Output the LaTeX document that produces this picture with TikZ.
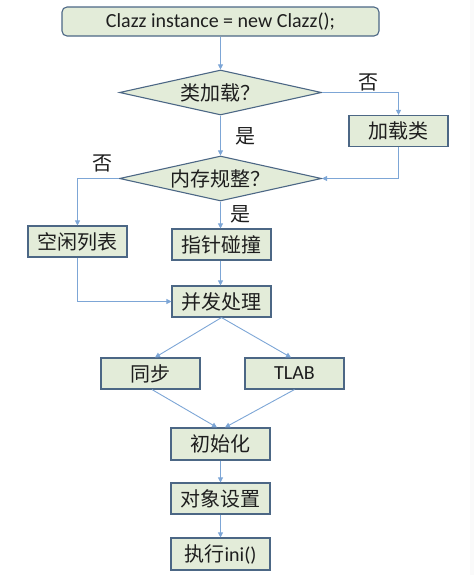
\documentclass[tikz,border=0pt]{standalone}
\usepackage{fontspec}
\setmainfont{Carlito}
\newfontfamily\cjk{Noto Sans CJK SC}
\usetikzlibrary{shapes.geometric,arrows.meta}
\definecolor{boxfill}{HTML}{E3ECD9}
\definecolor{boxdraw}{HTML}{4C6785}
\definecolor{conn}{HTML}{7DA6D6}
\definecolor{txt}{HTML}{1E1E1E}
\tikzset{
  every node/.style={text=txt,font=\fontsize{20}{22}\selectfont},
  procbox/.style={draw=boxdraw,fill=boxfill,line width=1.1pt,minimum width=99pt,minimum height=31pt,inner sep=0pt},
  startbox/.style={procbox,rounded corners=5pt,minimum width=317pt,minimum height=29pt},
  decide/.style={diamond,draw=boxdraw,fill=boxfill,line width=1.1pt,minimum width=202pt,minimum height=45pt,aspect=4.5,inner sep=0pt},
  flow/.style={draw=conn,line width=0.9pt,-{Triangle[width=5pt,length=5pt]}},
  lbl/.style={font=\cjk\fontsize{20}{22}\selectfont}
}
\begin{document}
\begin{tikzpicture}[x=1pt,y=-1pt]
\useasboundingbox (0,0) rectangle (474,579);
\fill[black!2] (470,0) rectangle (474,575);
\node[startbox] (start) at (220.5,21.5) {Clazz instance = new Clazz();};
\node[decide] (d1) at (220.5,92.5) {\cjk 类加载？};
\node[procbox] (load) at (398.5,131) {\cjk 加载类};
\node[decide] (d2) at (220.5,178.5) {\cjk 内存规整？};
\node[procbox] (free) at (77.5,241.5) {\cjk 空闲列表};
\node[procbox] (bump) at (221.5,244.5) {\cjk 指针碰撞};
\node[procbox] (conc) at (221.5,301.5) {\cjk 并发处理};
\node[procbox] (sync) at (150.5,373.5) {\cjk 同步};
\node[procbox] (tlab) at (294.5,373.5) {TLAB};
\node[procbox,minimum height=32pt] (init) at (220.5,444) {\cjk 初始化};
\node[procbox] (obj) at (220.5,498.5) {\cjk 对象设置};
\node[procbox,minimum height=32pt] (exec) at (220.5,554) {{\cjk 执行}ini()};

\draw[flow] (start.south) -- (d1.north);
\draw[flow] (d1.east) -| (load.north);
\draw[flow] (d1.south) -- (d2.north);
\draw[flow] (load.south) |- (d2.east);
\draw[flow] (d2.west) -| (free.north);
\draw[flow] (d2.south) -- (bump.north -| d2.south);
\draw[flow] (bump.south -| d2.south) -- (conc.north -| d2.south);
\draw[flow] (free.south) |- (conc.west);
\draw[flow] (conc.south) -- ([xshift=4.5pt]sync.north);
\draw[flow] (conc.south) -- ([xshift=-3.5pt]tlab.north);
\draw[flow] ([xshift=1.5pt]sync.south) -- ([xshift=-3.5pt]init.north);
\draw[flow] (tlab.south) -- ([xshift=4.5pt]init.north);
\draw[flow] (init.south) -- (obj.north);
\draw[flow] (obj.south) -- (exec.north);

\node[lbl] (no1) at (368,82) {否};
\node[lbl] (yes1) at (245,136) {是};
\node[lbl] (no2) at (102,163) {否};
\node[lbl] (yes2) at (240,214) {是};
\end{tikzpicture}
\end{document}
